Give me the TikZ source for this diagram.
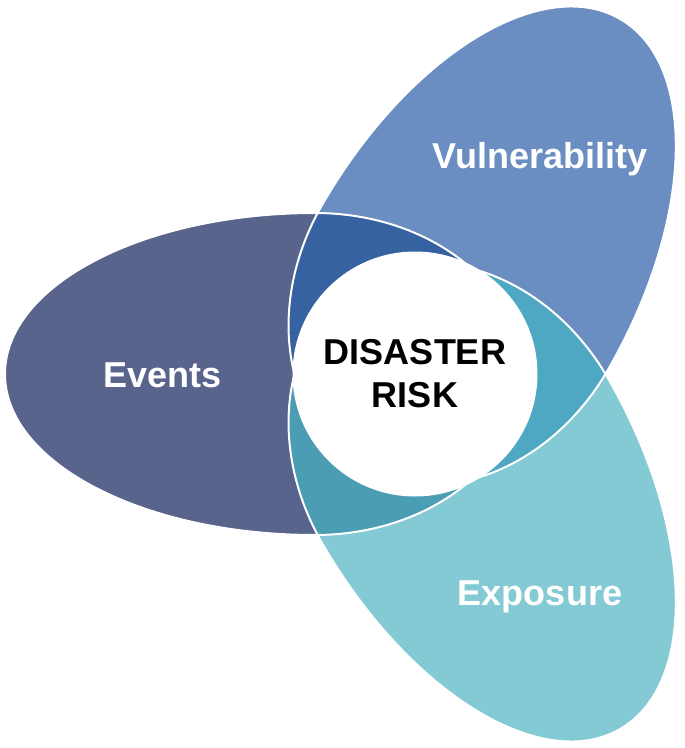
\documentclass[tikz,border=0pt]{standalone}
\usepackage{fontspec}
\setmainfont{Liberation Sans}

\definecolor{events}{HTML}{58648C}
\definecolor{vuln}{HTML}{6A8DC2}
\definecolor{expo}{HTML}{84CAD4}
\definecolor{evvu}{HTML}{3762A2}
\definecolor{vuex}{HTML}{4FA8C3}
\definecolor{evex}{HTML}{4A9DB3}

% one petal, pointing left; #1 is its half width
\newcommand{\petal}[1]{(-100pt,#1) arc[start angle=90,end angle=270,x radius=310pt,y radius=#1]
  arc[start angle=270,end angle=450,x radius=207pt,y radius=#1] -- cycle}

\begin{document}
\begin{tikzpicture}
  [x=1pt,y=1pt,
   every node/.style={text=white,font=\bfseries\fontsize{36}{43}\selectfont},
   edge/.style={draw=white,line width=2pt}]
  \useasboundingbox (-415,-374) rectangle (270,374);

  % the three petals
  \fill[events] \petal{161pt};
  \fill[vuln,rotate=-120] \petal{165pt};
  \fill[expo,rotate=120] \petal{165pt};

  % where two petals overlap
  \foreach \ra/\ba/\rb/\bb/\col in {0/161pt/-120/165pt/evvu,-120/165pt/120/165pt/vuex,120/165pt/0/161pt/evex}
  {
    \begin{scope}
      \clip[rotate=\ra] \petal{\ba};
      \fill[\col,rotate=\rb] \petal{\bb};
    \end{scope}
  }

  % white borders
  \draw[edge] \petal{161pt};
  \draw[edge,rotate=-120] \petal{165pt};
  \draw[edge,rotate=120] \petal{165pt};

  \node (risk) at (0,0) [circle,fill=white,text=black,minimum size=245pt,inner sep=0pt,align=center] {DISASTER\\RISK};
  \node (events) at (-252.5,-13) [anchor=base] {Events};
  \node (vulnerability) at (125,206) [anchor=base] {Vulnerability};
  \node (exposure) at (125,-231) [anchor=base] {Exposure};
\end{tikzpicture}
\end{document}
